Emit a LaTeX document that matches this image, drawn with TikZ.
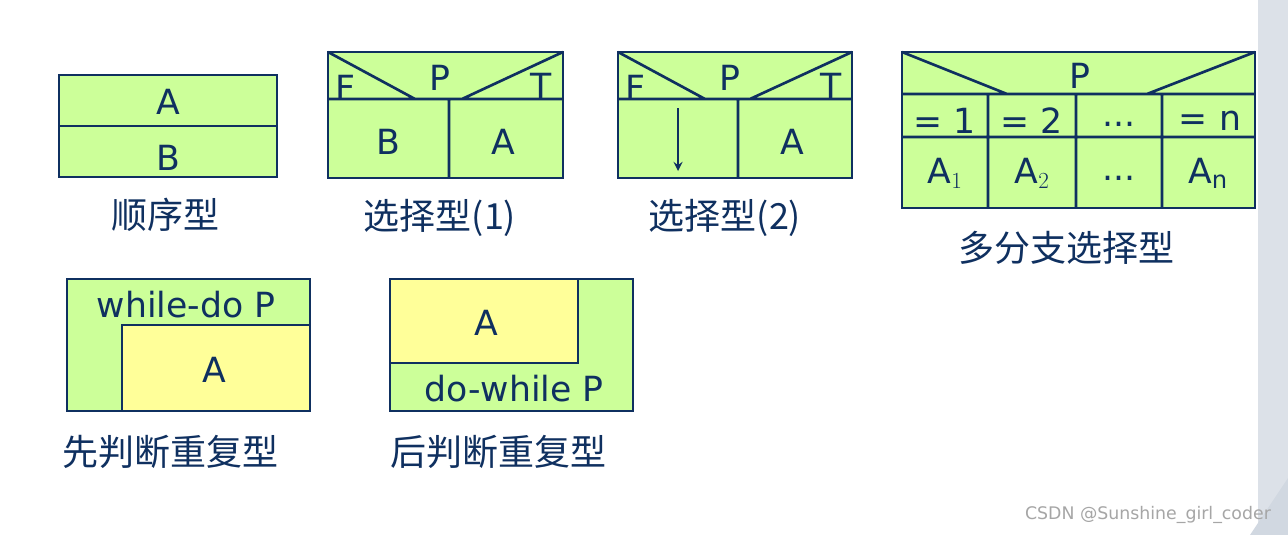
\documentclass[tikz,border=0pt]{standalone}
\usepackage{fontspec}
\setmainfont{DejaVu Sans}
\newfontfamily\cjk{Noto Sans CJK SC}
\definecolor{gr}{HTML}{CCFF99}
\definecolor{ye}{HTML}{FFFF99}
\definecolor{nv}{HTML}{0F3060}
\definecolor{strip}{HTML}{DCE1E8}
\begin{document}
\begin{tikzpicture}[x=0.75pt,y=-0.75pt,
  bx/.style={draw=nv,line width=2.2pt},
  ln/.style={draw=nv,line width=2pt},
  t/.style={text=nv,font=\fontsize{26}{28}\selectfont,inner sep=0pt},
  ts/.style={text=nv,font=\fontsize{23}{25}\selectfont,inner sep=0pt},
  lab/.style={text=nv,font=\cjk\fontsize{27}{30}\selectfont,inner sep=0pt}]
\useasboundingbox (0,0) rectangle (1288,535);
\fill[white] (0,0) rectangle (1288,535);
\fill[strip] (1258,0) rectangle (1288,535);
\fill[strip!80!nv!60] (1288,478) -- (1288,535) -- (1250,535) -- cycle;
% box1
\filldraw[bx,fill=gr] (59,75) rectangle (277,177);
\draw[ln] (59,126) -- (277,126);
\node[t] (a1) at (168,102) {A};
\node[t] (b1) at (168,158) {B};
\node[lab] (l1) at (165,215) {顺序型};
% box2
\filldraw[bx,fill=gr] (328,52) rectangle (563,178);
\draw[ln] (328,99) -- (563,99) (449,99) -- (449,178) (328,52) -- (415,99) (563,52) -- (462,99);
\node[t] (f2) at (345,88) {F};
\node[t] (p2) at (440,78) {P};
\node[t] (t2) at (541,86) {T};
\node[t] (b2) at (388,142) {B};
\node[t] (a2) at (503,142) {A};
\node[lab] (l2) at (440,218) {选择型(1)};
% box3
\filldraw[bx,fill=gr] (618,52) rectangle (852,178);
\draw[ln] (618,99) -- (852,99) (738,99) -- (738,178) (618,52) -- (705,99) (852,52) -- (750,99);
\node[t] (f3) at (635,88) {F};
\node[t] (p3) at (730,78) {P};
\node[t] (t3) at (831,86) {T};
\coordinate (s3) at (678,108);
\coordinate (e3) at (678,171);
\draw[ln,-stealth] (s3) -- (e3);
\node[t] (a3) at (792,142) {A};
\node[lab] (l3) at (725,218) {选择型(2)};
% box4
\filldraw[bx,fill=gr] (902,52) rectangle (1255,208);
\draw[ln] (902,94) -- (1255,94) (902,137) -- (1255,137)
  (988,94) -- (988,208) (1076,94) -- (1076,208) (1162,94) -- (1162,208)
  (902,52) -- (1007,94) (1255,52) -- (1147,94);
\node[t] (p4) at (1080,76) {P};
\node[t] (c1) at (945,121) {= 1};
\node[t] (c2) at (1032,121) {= 2};
\node[t] (c3) at (1119,124) {...};
\node[t] (c4) at (1210,121) {= n};
\node[t] (d1) at (945,173) {A$_1$};
\node[t] (d2) at (1032,173) {A$_2$};
\node[t] (d3) at (1119,178) {...};
\node[t] (d4) at (1208,173) {A$_\mathrm{n}$};
\node[lab] (l4) at (1066,248) {多分支选择型};
% box5
\filldraw[bx,fill=gr] (67,279) rectangle (310,411);
\filldraw[bx,fill=ye] (122,325) rectangle (310,411);
\node[t] (w5) at (186,305) {while-do P};
\node[t] (a5) at (214,370) {A};
\node[lab] (l5) at (170,452) {先判断重复型};
% box6
\filldraw[bx,fill=gr] (390,279) rectangle (633,411);
\filldraw[bx,fill=ye] (390,279) rectangle (578,363);
\node[t] (a6) at (486,323) {A};
\node[t] (w6) at (514,389) {do-while P};
\node[lab] (l6) at (498,452) {后判断重复型};
\node[text=gray!70,font=\fontsize{13}{15}\selectfont,inner sep=0pt] (wm) at (1148,515) {CSDN @Sunshine\_girl\_coder};
\end{tikzpicture}
\end{document}
